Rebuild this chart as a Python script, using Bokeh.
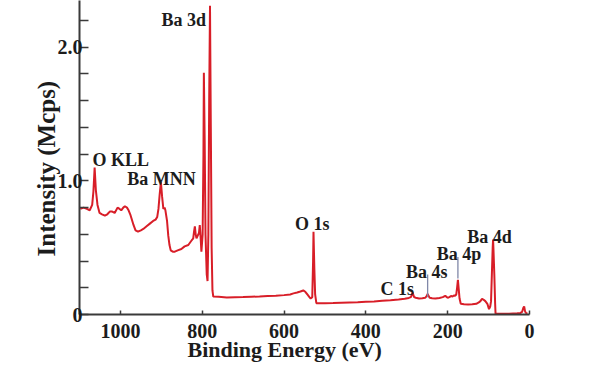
from bokeh.plotting import figure
from bokeh.models import Range1d, FixedTicker, Label, Title
from bokeh.embed import file_html
from bokeh.resources import INLINE

# ---- spectrum (binding energy eV, intensity Mcps) ----
energy = [1098, 1090, 1082, 1075, 1069, 1066, 1063, 1060, 1056, 1051, 1045, 1038,
          1032, 1026, 1020, 1014, 1007, 1002, 998, 993, 989, 984, 980, 976, 973,
          968, 963, 957, 950, 944, 936, 928, 920, 914, 910, 907, 904, 901, 898,
          895, 892, 890, 886, 883, 880, 877, 872, 867, 860, 851, 843, 834, 827,
          822, 820, 818, 816, 814, 811, 808, 806, 804, 802, 799, 797, 796, 794,
          792, 790, 789, 787, 785, 783, 781, 779, 777, 775, 773, 760, 740, 720,
          700, 680, 660, 640, 620, 600, 585, 577, 568, 560, 553, 548, 543, 538,
          535, 531, 529, 528, 526, 524, 521, 510, 500, 480, 460, 440, 420, 400,
          380, 360, 340, 320, 305, 295, 290, 288, 286, 284, 282, 278, 270, 262,
          255, 251, 249, 247, 244, 238, 230, 220, 212, 206, 203, 200, 196, 192,
          188, 185, 182, 179, 177, 175, 173, 171, 168, 160, 150, 140, 130, 124,
          120, 116, 112, 108, 103, 99, 96, 94, 92, 90, 89, 88, 86, 84, 83, 80,
          70, 60, 50, 40, 30, 22, 18, 15, 13, 11, 9, 7, 5]
intensity = [0.79, 0.80, 0.79, 0.78, 0.82, 0.92, 1.10, 0.93, 0.82, 0.76, 0.75, 0.74,
             0.75, 0.77, 0.77, 0.76, 0.80, 0.79, 0.78, 0.80, 0.81, 0.80, 0.78, 0.75, 0.72,
             0.67, 0.63, 0.62, 0.63, 0.64, 0.66, 0.68, 0.70, 0.71, 0.73, 0.79, 0.90, 0.99, 0.88,
             0.79, 0.80, 0.78, 0.70, 0.59, 0.52, 0.48, 0.47, 0.47, 0.48, 0.49, 0.51, 0.52, 0.55,
             0.57, 0.62, 0.66, 0.60, 0.57, 0.59, 0.61, 0.67, 0.58, 0.47, 0.60, 1.20, 1.81, 1.30,
             0.60, 0.40, 0.30, 0.25, 0.60, 1.60, 2.31, 1.40, 0.50, 0.18, 0.134, 0.132, 0.128, 0.130,
             0.131, 0.133, 0.135, 0.138, 0.140, 0.145, 0.150, 0.158, 0.165, 0.172, 0.180, 0.170, 0.150, 0.130,
             0.120, 0.130, 0.400, 0.620, 0.350, 0.150, 0.085, 0.084, 0.085, 0.086, 0.088, 0.090, 0.092, 0.095,
             0.098, 0.102, 0.106, 0.112, 0.118, 0.124, 0.130, 0.145, 0.165, 0.148, 0.130, 0.125, 0.120, 0.122,
             0.125, 0.140, 0.155, 0.140, 0.125, 0.122, 0.120, 0.124, 0.130, 0.140, 0.132, 0.125, 0.130, 0.138,
             0.135, 0.142, 0.140, 0.150, 0.200, 0.260, 0.190, 0.120, 0.080, 0.077, 0.075, 0.076, 0.080, 0.090,
             0.100, 0.118, 0.110, 0.100, 0.080, 0.040, 0.060, 0.100, 0.300, 0.500, 0.560, 0.480, 0.300, 0.080, 0.005, 0.005,
             0.005, 0.005, 0.006, 0.008, 0.010, 0.012, 0.020, 0.050, 0.060, 0.025, 0.012, 0.010, 0.010]

# ---- peak annotations ----
peak_names = ["O KLL", "Ba MNN", "Ba 3d", "O 1s", "C 1s", "Ba 4s", "Ba 4p", "Ba 4d"]
# (x eV, baseline y Mcps, align) anchor of each label
label_anchor = [(1068, 1.157, "left"), (983, 1.017, "left"), (791, 2.204, "right"),
                (573, 0.674, "left"), (364, 0.192, "left"), (302, 0.316, "left"),
                (227, 0.453, "left"), (152, 0.582, "left")]

# thin marker lines above Ba 4s and Ba 4p
marker_energy = [249, 175]
marker_low = [0.13, 0.27]
marker_high = [0.30, 0.43]

x_ticks = [0, 200, 400, 600, 800, 1000]
y_ticks = [0, 1, 2]
y_minor = [0.2, 0.4, 0.6, 0.8, 1.2, 1.4, 1.6, 1.8, 2.2]
y_tick_labels = {0: "0", 1: "1.0", 2: "2.0"}

SERIF = "Liberation Serif"
INK = "#1c1c1c"
AXIS = "#3a3a3a"

p = figure(width=570, height=362, output_backend="svg", toolbar_location=None,
           x_range=Range1d(1100, 0), y_range=Range1d(0, 2.35),
           min_border_left=79, min_border_right=41, min_border_top=0,
           min_border_bottom=48)
p.outline_line_color = None
p.xgrid.visible = False
p.ygrid.visible = False
p.background_fill_color = "white"

p.line(energy, intensity, line_color="#d81e28", line_width=2)
p.segment(x0=marker_energy, y0=marker_low, x1=marker_energy, y1=marker_high,
          line_color="#8088a8", line_width=1.3)

for name, (xa, ya, al) in zip(peak_names, label_anchor):
    p.add_layout(Label(x=xa, y=ya, text=name, text_align=al, text_baseline="alphabetic",
                       text_font=SERIF, text_font_style="bold", text_font_size="18px",
                       text_color=INK))

# axis titles as side titles so they can be shifted freely
ytitle = Title(text="Intensity (Mcps)", align="left", offset=58, standoff=-10,
               text_font=SERIF, text_font_style="bold", text_font_size="25px",
               text_color=INK)
p.add_layout(ytitle, "left")
xtitle = Title(text="Binding Energy (eV)", align="left", offset=108, standoff=-8,
               vertical_align="top",
               text_font=SERIF, text_font_style="bold", text_font_size="22px",
               text_color=INK)
p.add_layout(xtitle, "below")

for ax in (p.xaxis[0], p.yaxis[0]):
    ax.axis_line_color = AXIS
    ax.axis_line_width = 2
    ax.major_tick_line_color = AXIS
    ax.minor_tick_line_color = AXIS
    ax.major_tick_line_width = 1.5
    ax.minor_tick_line_width = 1.5
    ax.major_tick_out = 0
    ax.minor_tick_out = 0
    ax.major_label_text_font = SERIF
    ax.major_label_text_font_style = "bold"
    ax.major_label_text_font_size = "20px"
    ax.major_label_text_color = INK

p.xaxis.ticker = FixedTicker(ticks=x_ticks, minor_ticks=[])
p.xaxis.major_tick_in = 4
p.xaxis.minor_tick_in = 0
p.xaxis.major_label_standoff = 9

p.yaxis.ticker = FixedTicker(ticks=y_ticks, minor_ticks=y_minor)
p.yaxis.major_label_overrides = y_tick_labels
p.yaxis.major_tick_in = 9
p.yaxis.minor_tick_in = 9
p.yaxis.major_label_standoff = -3

open("out.html", "w").write(file_html(p, INLINE))
